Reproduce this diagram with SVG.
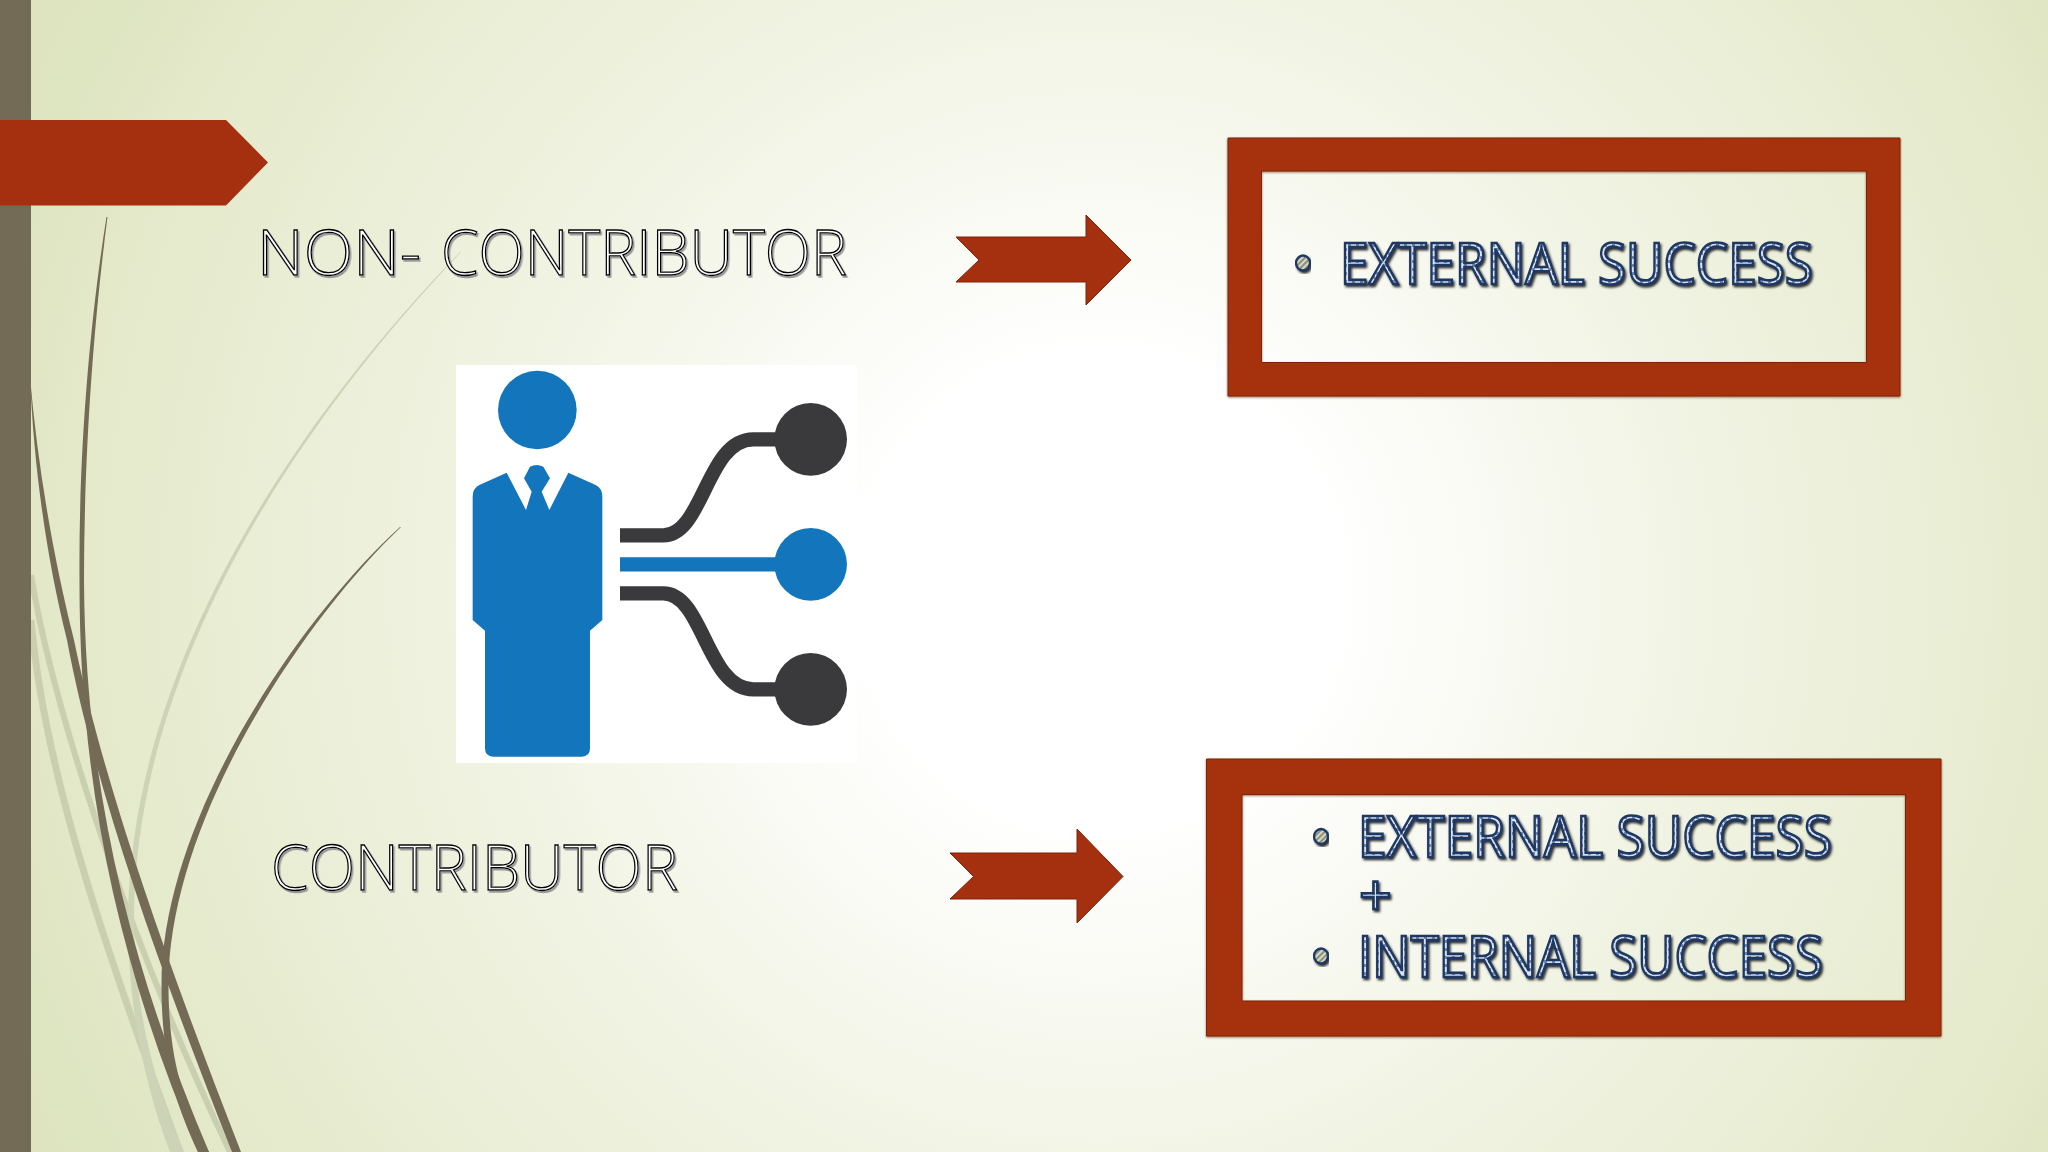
<svg xmlns="http://www.w3.org/2000/svg" width="2048" height="1152" viewBox="0 0 2048 1152">
<style>
.red{fill:#A5300F;stroke:#7E2208;stroke-width:1}
.stem{fill:#736B56}
.light{fill:none;stroke:#C9CFAF}
.title{font-family:"Open Sans","Noto Sans",sans-serif;font-size:63px;font-weight:300;fill:#ffffff;stroke:#000000;stroke-width:1.3;filter:url(#shade)}
.item{font-family:"Open Sans","Noto Sans",sans-serif;font-size:57.5px;font-weight:400;fill:url(#stitch);stroke:#1F3864;stroke-width:2.6;filter:url(#shade2)}
.bullet{fill:url(#hatch);stroke:#1F3864;stroke-width:2.4;filter:url(#shade2)}
.blue{fill:#1375BC}
.dark{fill:#3A3A3C}
.wire{fill:none;stroke-width:43}
</style>
<defs>
<radialGradient id="bg" gradientUnits="userSpaceOnUse" cx="1100" cy="590" r="1180">
<stop offset="0" stop-color="#ffffff"/>
<stop offset="0.2" stop-color="#ffffff"/>
<stop offset="0.5" stop-color="#F1F4E4"/>
<stop offset="0.82" stop-color="#E6EBCE"/>
<stop offset="1" stop-color="#DDE4BF"/>
</radialGradient>
<pattern id="stitch" width="8" height="8" patternUnits="userSpaceOnUse">
<rect width="8" height="8" fill="#D9E2EE"/>
<rect x="0" y="0" width="3" height="3" fill="#6F8AB5"/>
<rect x="4" y="4" width="3" height="3" fill="#6F8AB5"/>
</pattern>
<pattern id="hatch" width="4" height="4" patternUnits="userSpaceOnUse" patternTransform="rotate(45)">
<rect width="4" height="4" fill="#D5D8C0"/>
<rect width="2" height="4" fill="#8C8F80"/>
</pattern>
<filter id="shade" x="-5%" y="-20%" width="110%" height="140%">
<feDropShadow dx="1.5" dy="2" stdDeviation="0.7" flood-color="#999999"/>
</filter>
<filter id="shade2" x="-5%" y="-20%" width="110%" height="140%">
<feDropShadow dx="1.5" dy="2" stdDeviation="1" flood-color="#333333"/>
</filter>
<filter id="edge" x="-2%" y="-2%" width="104%" height="104%">
<feDropShadow dx="0" dy="1" stdDeviation="0.8" flood-color="#5A1A06" flood-opacity="0.6"/>
</filter>
</defs>

<rect id="background" width="2048" height="1152" fill="url(#bg)"/>

<g id="stems">
<path class="light" stroke-width="6" d="M31,575 C50,690 115,910 230,1152"/>
<path class="light" stroke-width="7" d="M31,620 C45,780 110,960 180,1152"/>
<path fill="#CDD3B6" d="M461,252 C291,431 134,672 134,920 C134,1010 156,1090 184,1152 L170,1152 C146,1090 128,1010 128,920 C130,670 289,429 460,252 Z"/>
<path class="stem" d="M30,377 C38,470 54,560 74,640 C105,790 170,970 241,1152 L232,1152 C160,970 95,790 67,640 C47,560 34,470 30,377 Z"/>
<path class="stem" d="M107.500,217 C94,320 84,450 84,580 C85,800 136,980 209,1152 L198,1152 C125,980 79,800 79.500,580 C78.500,450 90,320 106.500,217 Z"/>
<path class="stem" d="M401,527 C303,620 168.500,820 168.500,985 C168.500,1060 184,1105 209,1152 L198,1152 C176,1105 161.500,1060 161.500,985 C161.500,820 298,620 400,527 Z"/>
</g>

<rect id="sidebar" x="0" y="0" width="31" height="1152" fill="#736B56"/>
<polygon id="tab" points="0,120 226,120 268,162.500 226,205.500 0,205.500" fill="#A5300F"/>

<g id="non-contributor">
<text class="title" y="275"><tspan x="257" textLength="164" lengthAdjust="spacingAndGlyphs">NON-</tspan> <tspan x="441" textLength="406" lengthAdjust="spacingAndGlyphs">CONTRIBUTOR</tspan></text>
</g>
<g id="contributor">
<text class="title" x="271" y="890" textLength="407" lengthAdjust="spacingAndGlyphs">CONTRIBUTOR</text>
</g>

<g id="person-icon">
<rect x="456" y="365" width="401" height="398" fill="#ffffff"/>
<g transform="translate(440 350) scale(0.33333)">
<circle class="blue" cx="292" cy="180" r="118"/>
<path class="blue" d="M200,368 L118,405 Q98,415 98,440 L98,810 L135,842 L135,1195 Q135,1220 160,1220 L425,1220 Q450,1220 450,1195 L450,842 L487,810 L487,440 Q487,415 467,405 L385,368 L328,480 L305,425 L330,385 L310,350 Q290,340 270,350 L252,385 L275,425 L258,480 Z"/>
<path class="wire" stroke="#3A3A3C" d="M540,556 H670 C790,556 800,268 940,268 H1020"/>
<path class="wire" stroke="#1375BC" d="M540,643 H1020"/>
<path class="wire" stroke="#3A3A3C" d="M540,730 H670 C790,730 800,1018 940,1018 H1020"/>
<circle class="dark" cx="1112" cy="268" r="109"/>
<circle class="blue" cx="1112" cy="643" r="109"/>
<circle class="dark" cx="1112" cy="1018" r="109"/>
</g>
</g>

<g id="external-box">
<path class="red" filter="url(#edge)" fill-rule="evenodd" d="M1228,138 H1900 V396 H1228 Z M1261.500,171 V362.500 H1866.500 V171 Z"/>
<ellipse class="bullet" cx="1303" cy="263" rx="7" ry="7.500"/>
<text class="item" x="1340" y="284" textLength="473" lengthAdjust="spacingAndGlyphs">EXTERNAL SUCCESS</text>
</g>

<g id="both-box">
<path class="red" filter="url(#edge)" fill-rule="evenodd" d="M1206.500,759 H1941 V1036 H1206.500 Z M1242,794.500 V1001 H1905.500 V794.500 Z"/>
<ellipse class="bullet" cx="1321" cy="836.500" rx="7" ry="7.500"/>
<text class="item" x="1358" y="857" textLength="474" lengthAdjust="spacingAndGlyphs">EXTERNAL SUCCESS</text>
<text class="item" x="1359" y="915">+</text>
<ellipse class="bullet" cx="1321" cy="956" rx="7" ry="7.500"/>
<text class="item" x="1358" y="977" textLength="465" lengthAdjust="spacingAndGlyphs">INTERNAL SUCCESS</text>
</g>

<g id="connectors">
<polygon class="red" points="956,237 979,260 956,282 1086,282 1086,305 1131,260 1086,215 1086,237"/>
<polygon class="red" points="950,853 973.500,876.500 950,899 1077,899 1077,923 1123,876.500 1077,829 1077,853"/>
</g>
</svg>
